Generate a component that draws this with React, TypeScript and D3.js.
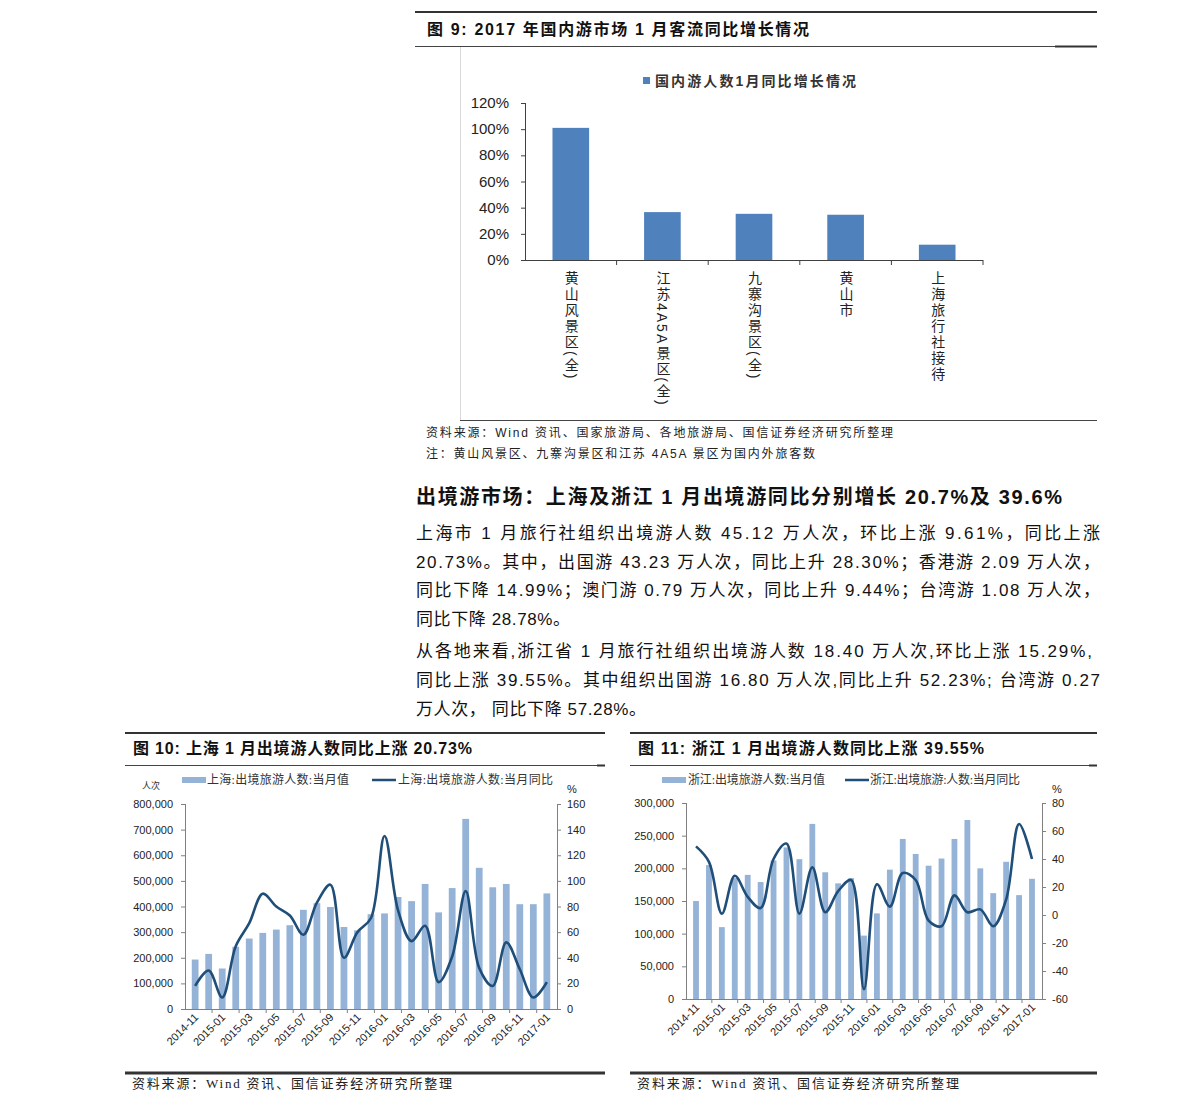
import * as d3 from 'd3';

// ---- figure 9 data ----
const cats9 = ['黄山风景区(全)', '江苏4A5A景区(全)', '九寨沟景区(全)', '黄山市', '上海旅行社接待'];
const vals9 = [1.01, 0.366, 0.353, 0.346, 0.117];
const ticks9 = [0, 0.2, 0.4, 0.6, 0.8, 1.0, 1.2];

// ---- figures 10 / 11 data ----
const months = [
  '2014-11', '2014-12', '2015-01', '2015-02', '2015-03', '2015-04', '2015-05', '2015-06', '2015-07',
  '2015-08', '2015-09', '2015-10', '2015-11', '2015-12', '2016-01', '2016-02', '2016-03', '2016-04',
  '2016-05', '2016-06', '2016-07', '2016-08', '2016-09', '2016-10', '2016-11', '2016-12', '2017-01',
];
const monthLabels = [
  '2014-11', '2015-01', '2015-03', '2015-05', '2015-07', '2015-09', '2015-11',
  '2016-01', '2016-03', '2016-05', '2016-07', '2016-09', '2016-11', '2017-01',
];

const shVisitors = [
  193000, 215000, 158000, 243000, 275000, 297000, 310000, 327000, 387000, 413000, 398000, 320000, 307000,
  370000, 373000, 437000, 421000, 488000, 377000, 472000, 742000, 551000, 475000, 488000, 409000, 409000, 451000,
];
const shYoY = [18, 30, 9, 49, 67, 90, 80, 73, 58, 83, 97, 40, 60, 71, 135, 77, 53, 65, 21, 41, 92, 32, 18, 52, 31, 9, 21];
const shLeftTicks = [0, 100000, 200000, 300000, 400000, 500000, 600000, 700000, 800000];
const shRightTicks = [0, 20, 40, 60, 80, 100, 120, 140, 160];

const zjVisitors = [
  150000, 205000, 110000, 185000, 190000, 179000, 212000, 232000, 214000, 268000, 194000, 177000, 185000,
  97000, 131000, 198000, 245000, 222000, 204000, 215000, 245000, 274000, 200000, 162000, 210000, 159000, 184000,
];
const zjYoY = [49, 38, 1, 28, 13, 5, 40, 51, 1, 34, 2, 17, 25, -53, 22, 6, 30, 25, -4, -8, 14, 2, 4, -8, 11, 65, 40];
const zjLeftTicks = [0, 50000, 100000, 150000, 200000, 250000, 300000];
const zjRightTicks = [-60, -40, -20, 0, 20, 40, 60, 80];

const SANS = '"Liberation Sans", Arial, "Noto Sans CJK SC", sans-serif';
const SERIF = '"Liberation Serif", "Noto Sans CJK SC", serif';
const BAR_LIGHT = '#95b3d7';
const LINE_DARK = '#1f4e79';
const AXIS = '#808080';

function Fig9() {
  const x = d3.scaleBand<string>().domain(cats9).range([525, 983]).paddingInner(0.6).paddingOuter(0.3);
  const y = d3.scaleLinear().domain([0, 1.2]).range([260, 103]);
  const fmt = d3.format('.0%');
  const bounds = cats9.map((_, i) => 525 + (i + 1) * x.step());
  return (
    <g fontFamily={SANS}>
      <line x1={415} x2={1097} y1={12} y2={12} stroke="#333" strokeWidth={2} />
      <text x={427} y={35} fontSize={16} fontWeight="bold" fill="#111" textLength={382}>
        图 9: 2017 年国内游市场 1 月客流同比增长情况
      </text>
      <line x1={415} x2={1055} y1={46.5} y2={46.5} stroke="#444" strokeWidth={1} />
      <line x1={1055} x2={1097} y1={46.5} y2={46.5} stroke="#333" strokeWidth={2} />
      <line x1={460.5} x2={460.5} y1={47} y2={420} stroke="#d9d9d9" />
      <line x1={460} x2={1097} y1={420.5} y2={420.5} stroke="#444" strokeWidth={1} />

      <rect x={643} y={77} width={7} height={7} fill="#4f81bd" />
      <text x={655} y={86} fontSize={14} fontWeight="bold" fill="#333" textLength={201}>
        国内游人数1月同比增长情况
      </text>

      {vals9.map((v, i) => (
        <rect key={i} x={x(cats9[i])} y={y(v)} width={x.bandwidth()} height={y(0) - y(v)} fill="#4f81bd" />
      ))}
      <line x1={525.5} x2={525.5} y1={103} y2={260} stroke="#404040" />
      <line x1={525} x2={983} y1={260.5} y2={260.5} stroke="#404040" />
      {ticks9.map((t) => (
        <g key={t}>
          <line x1={521} x2={525} y1={y(t) + 0.5} y2={y(t) + 0.5} stroke="#404040" />
          <text x={509} y={y(t) + 5} fontSize={15} textAnchor="end" fill="#222">
            {fmt(t)}
          </text>
        </g>
      ))}
      {bounds.map((b) => (
        <line key={b} x1={b} x2={b} y1={260} y2={265} stroke="#404040" />
      ))}
      {cats9.map((c) => (
        <text
          key={c}
          x={(x(c) ?? 0) + x.bandwidth() / 2}
          y={271}
          fontSize={14}
          fill="#222"
          style={{ writingMode: 'vertical-rl', letterSpacing: '2px' }}
        >
          {c}
        </text>
      ))}

      <text x={426} y={437} fontSize={12} fill="#222" textLength={467}>
        资料来源：Wind 资讯、国家旅游局、各地旅游局、国信证券经济研究所整理
      </text>
      <text x={426} y={458} fontSize={12} fill="#222" textLength={389}>
        注：黄山风景区、九寨沟景区和江苏 4A5A 景区为国内外旅客数
      </text>
    </g>
  );
}

function BodyText() {
  const lines: [string, number, number | null][] = [
    ['上海市 1 月旅行社组织出境游人数 45.12 万人次，环比上涨 9.61%，同比上涨', 539, 684],
    ['20.73%。其中，出国游 43.23 万人次，同比上升 28.30%；香港游 2.09 万人次，', 568, 684],
    ['同比下降 14.99%；澳门游 0.79 万人次，同比上升 9.44%；台湾游 1.08 万人次，', 596, 684],
    ['同比下降 28.78%。', 625, 154],
    ['从各地来看,浙江省 1 月旅行社组织出境游人数 18.40 万人次,环比上涨 15.29%,', 657, 676],
    ['同比上涨 39.55%。其中组织出国游 16.80 万人次,同比上升 52.23%; 台湾游 0.27', 686, 684],
    ['万人次， 同比下降 57.28%。', 715, 230],
  ];
  return (
    <g fontFamily={SANS} fill="#111">
      <text x={416} y={504} fontSize={20} fontWeight="bold" textLength={646}>
        出境游市场：上海及浙江 1 月出境游同比分别增长 20.7%及 39.6%
      </text>
      {lines.map(([t, yy, len]) => (
        <text key={yy} x={416} y={yy} fontSize={17} textLength={len ?? undefined}>
          {t}
        </text>
      ))}
    </g>
  );
}

interface ComboProps {
  left: number;
  right: number;
  x0: number;
  x1: number;
  yTop: number;
  yBot: number;
  title: string;
  titleLen: number;
  barName: string;
  lineName: string;
  bars: number[];
  yoy: number[];
  leftTicks: number[];
  rightTicks: number[];
  rightDomain: [number, number];
  barPad: number;
  showUnit: boolean;
  legend: { rect: number; rectText: number; line: number; lineText: number; rectLen: number; lineLen: number };
}

function Combo(p: ComboProps) {
  const x = d3.scaleBand<string>().domain(months).range([p.x0, p.x1]).padding(p.barPad);
  const maxL = p.leftTicks[p.leftTicks.length - 1];
  const yL = d3.scaleLinear().domain([0, maxL]).range([p.yBot, p.yTop]);
  const yR = d3.scaleLinear().domain(p.rightDomain).range([p.yBot, p.yTop]);
  const cx = (m: string) => (x(m) ?? 0) + x.bandwidth() / 2;
  const line = d3
    .line<number>()
    .x((_, i) => cx(months[i]))
    .y((d) => yR(d))
    .curve(d3.curveCatmullRom.alpha(0.5));
  const fmt = d3.format(',');
  const tickXs = monthLabels.slice(1).map((m) => p.x0 + months.indexOf(m) * x.step());
  return (
    <g fontFamily={SANS}>
      <line x1={p.left} x2={p.right} y1={733} y2={733} stroke="#333" strokeWidth={2} />
      <text x={p.left + 8} y={754} fontSize={16} fontWeight="bold" fill="#111" textLength={p.titleLen}>
        {p.title}
      </text>
      <line x1={p.left} x2={p.right - 8} y1={765.5} y2={765.5} stroke="#444" />
      <line x1={p.right - 8} x2={p.right} y1={765.5} y2={765.5} stroke="#333" strokeWidth={2} />

      {/* legend */}
      <rect x={p.legend.rect} y={777} width={24} height={6} fill={BAR_LIGHT} />
      <text x={p.legend.rectText} y={784} fontSize={12} fill="#333" fontFamily={SERIF} textLength={p.legend.rectLen}>
        {p.barName}
      </text>
      <line x1={p.legend.line} x2={p.legend.line + 24} y1={780} y2={780} stroke={LINE_DARK} strokeWidth={2.5} />
      <text x={p.legend.lineText} y={784} fontSize={12} fill="#333" fontFamily={SERIF} textLength={p.legend.lineLen}>
        {p.lineName}
      </text>
      {p.showUnit && (
        <text x={142} y={789} fontSize={9} fill="#333">
          人次
        </text>
      )}
      <text x={p.x1 + 10} y={793} fontSize={11} fill="#222">
        %
      </text>

      {p.bars.map((v, i) => (
        <rect
          key={months[i]}
          x={x(months[i])}
          y={yL(v)}
          width={x.bandwidth()}
          height={p.yBot - yL(v)}
          fill={BAR_LIGHT}
        />
      ))}
      <path d={line(p.yoy) ?? undefined} fill="none" stroke={LINE_DARK} strokeWidth={2.6} />

      {/* axes */}
      <line x1={p.x0 + 0.5} x2={p.x0 + 0.5} y1={p.yTop} y2={p.yBot} stroke={AXIS} />
      <line x1={p.x1 + 0.5} x2={p.x1 + 0.5} y1={p.yTop} y2={p.yBot} stroke={AXIS} />
      <line x1={p.x0} x2={p.x1} y1={p.yBot + 0.5} y2={p.yBot + 0.5} stroke={AXIS} />
      {p.leftTicks.map((t) => (
        <g key={`l${t}`}>
          <line x1={p.x0 - 4} x2={p.x0} y1={yL(t) + 0.5} y2={yL(t) + 0.5} stroke={AXIS} />
          <text x={p.x0 - 12} y={yL(t) + 4} fontSize={11} textAnchor="end" fill="#222">
            {fmt(t)}
          </text>
        </g>
      ))}
      {p.rightTicks.map((t) => (
        <g key={`r${t}`}>
          <line x1={p.x1} x2={p.x1 + 4} y1={yR(t) + 0.5} y2={yR(t) + 0.5} stroke={AXIS} />
          <text x={p.x1 + 10} y={yR(t) + 4} fontSize={11} fill="#222">
            {t}
          </text>
        </g>
      ))}
      {tickXs.map((tx) => (
        <line key={tx} x1={tx} x2={tx} y1={p.yBot} y2={p.yBot + 4} stroke={AXIS} />
      ))}
      {monthLabels.map((m) => (
        <text
          key={m}
          transform={`translate(${cx(m) + 4},${p.yBot + 9}) rotate(-45)`}
          fontSize={11}
          textAnchor="end"
          fill="#222"
        >
          {m}
        </text>
      ))}

      <line x1={p.left} x2={p.right} y1={1073} y2={1073} stroke="#333" strokeWidth={3} />
      <text x={p.left + 7} y={1088} fontSize={13} fill="#222" fontFamily={SERIF} textLength={p.left < 300 ? 320 : 322}>
        资料来源：Wind 资讯、国信证券经济研究所整理
      </text>
    </g>
  );
}

export default function App() {
  return (
    <div style={{ position: 'absolute', left: 0, top: 0 }}>
      <svg width={1191} height={1113} style={{ display: 'block', background: '#fff' }}>
        <Fig9 />
        <BodyText />
        <Combo
          left={125}
          right={605}
          x0={185}
          x1={557}
          yTop={804}
          yBot={1009}
          title="图 10:  上海 1 月出境游人数同比上涨 20.73%"
          titleLen={339}
          barName="上海:出境旅游人数:当月值"
          lineName="上海:出境旅游人数:当月同比"
          bars={shVisitors}
          yoy={shYoY}
          leftTicks={shLeftTicks}
          rightTicks={shRightTicks}
          rightDomain={[0, 160]}
          barPad={0.5}
          showUnit={true}
          legend={{ rect: 182, rectText: 207, line: 372, lineText: 398, rectLen: 142, lineLen: 155 }}
        />
        <Combo
          left={630}
          right={1097}
          x0={686}
          x1={1042}
          yTop={803}
          yBot={999}
          title="图 11:  浙江 1 月出境游人数同比上涨 39.55%"
          titleLen={346}
          barName="浙江:出境旅游人数:当月值"
          lineName="浙江:出境旅游:人数:当月同比"
          bars={zjVisitors}
          yoy={zjYoY}
          leftTicks={zjLeftTicks}
          rightTicks={zjRightTicks}
          rightDomain={[-60, 80]}
          barPad={0.55}
          showUnit={false}
          legend={{ rect: 662, rectText: 688, line: 845, lineText: 870, rectLen: 137, lineLen: 150 }}
        />
      </svg>
    </div>
  );
}
